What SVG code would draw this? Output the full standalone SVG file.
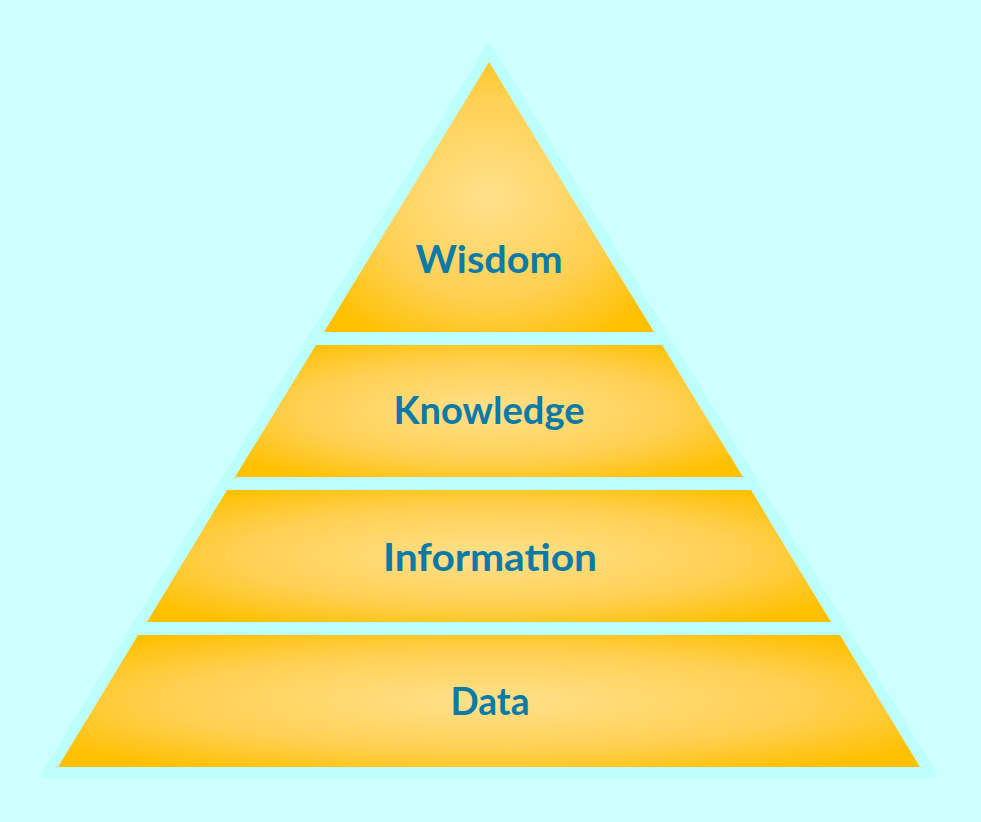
<svg xmlns="http://www.w3.org/2000/svg" width="981" height="822" viewBox="0 0 981 822">
  <defs>
    <radialGradient id="layerGrad" cx="0.5" cy="0.5" r="0.62">
      <stop offset="0" stop-color="#ffe08c"/>
      <stop offset="0.6" stop-color="#ffd052"/>
      <stop offset="1" stop-color="#ffc000"/>
    </radialGradient>
  </defs>
  <style>
    .layer { fill: url(#layerGrad); }
    .label { font-family: "Lato", "Open Sans", "Liberation Sans", sans-serif; font-weight: bold; font-size: 38px; fill: #0b7aa7; text-anchor: middle; }
  </style>
  <rect x="0" y="0" width="981" height="822" fill="#ccfffd"/>
  <g id="outline">
    <polygon points="489,48.6 45.5,774 932.5,774" fill="#bdfffd" stroke="#bdfffd" stroke-width="8" stroke-linejoin="round"/>
  </g>
  <g id="wisdom">
    <polygon class="layer" points="489,62 654,332 324,332"/>
    <text class="label" x="489" y="273" textLength="147" lengthAdjust="spacingAndGlyphs">Wisdom</text>
  </g>
  <g id="knowledge">
    <polygon class="layer" points="316,345 662,345 743,477 235,477"/>
    <text class="label" x="489" y="424" textLength="191" lengthAdjust="spacingAndGlyphs">Knowledge</text>
  </g>
  <g id="information">
    <polygon class="layer" points="227,490 751,490 831,622 147,622"/>
    <text class="label" x="490" y="571" textLength="214" lengthAdjust="spacingAndGlyphs">Information</text>
  </g>
  <g id="data">
    <polygon class="layer" points="138,635 840,635 920,767 58,767"/>
    <text class="label" x="490" y="715" textLength="79" lengthAdjust="spacingAndGlyphs">Data</text>
  </g>
  <g id="connectors"/>
</svg>
